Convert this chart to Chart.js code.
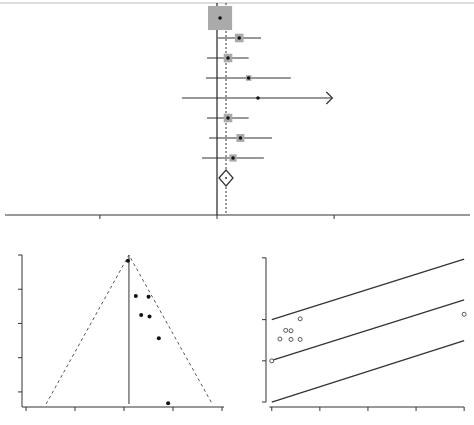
<!DOCTYPE html>
<html><head><meta charset="utf-8">
<script src="https://cdn.jsdelivr.net/npm/chart.js@4"></script>
<style>
body{margin:0;background:#fff;width:474px;height:425px;position:relative;overflow:hidden}
canvas{position:absolute}
#forest{left:0;top:0}
#funnel{left:0;top:240px}
#galb{left:240px;top:240px}
</style></head><body>
<canvas id="forest" width="474" height="230"></canvas>
<canvas id="funnel" width="240" height="185"></canvas>
<canvas id="galb" width="234" height="185"></canvas>
<script>
// forest plot
let studyRow = [1,2,3,4,5,6,7,8];
let studyEst = [0.026,0.19,0.094,0.27,0.35,0.094,0.20,0.137];
let studyLo = [-0.04,0.01,-0.085,-0.094,-0.30,-0.085,-0.068,-0.128];
let studyHi = [0.09,0.376,0.27,0.63,1.4,0.27,0.47,0.40];
let studyWeight = [55,7,7,3,0.3,7,6,5];
let pooledRow = 9, pooledEst = 0.077, pooledLo = 0.017, pooledHi = 0.137;
let forestTicks = [-1,0,1];

// funnel plot
let funnelX = [2.08,2.24,2.50,2.35,2.52,2.71,2.90];
let funnelSE = [0.17,1.20,1.22,1.75,1.80,2.43,4.33];
let funnelApex = [2.10,0];
let funnelLeft = [0.41,4.35];
let funnelRight = [3.80,4.35];
let funnelXTicks = [0,1,2,3,4];
let funnelYTicks = [0,1,2,3,4];

// galbraith plot
let galbX = [0,0.17,0.29,0.40,0.40,0.59,0.59,4.0];
let galbY = [1.0,1.53,1.74,1.73,1.52,2.02,1.52,2.13];
let galbLineX = [0,4];
let galbMid = [1.01,2.48];
let galbUp = [2.0,3.47];
let galbLow = [0,1.49];
let galbXTicks = [0,1,2,3,4];
let galbYTicks = [0,1,2,3.5];

const ink = '#333';

// axes drawn Stata-style: line over tick range, short outward ticks
const stataAxes = {
  id:'stataAxes',
  afterDraw(chart, args, o){
    const c = chart.ctx, xs = chart.scales.x, ys = chart.scales.y, a = chart.chartArea;
    c.save(); c.strokeStyle = ink; c.lineWidth = 1;
    if (o.x){
      const yb = a.bottom;
      c.beginPath();
      c.moveTo(o.x.from!=null?xs.getPixelForValue(o.x.from):a.left, yb);
      c.lineTo(o.x.to!=null?xs.getPixelForValue(o.x.to):a.right, yb);
      o.x.ticks.forEach(t=>{const p=xs.getPixelForValue(t);c.moveTo(p,yb);c.lineTo(p,yb+4);});
      c.stroke();
    }
    if (o.y){
      const xl = a.left;
      c.beginPath();
      c.moveTo(xl, o.y.from!=null?ys.getPixelForValue(o.y.from):a.bottom);
      c.lineTo(xl, o.y.to!=null?ys.getPixelForValue(o.y.to):a.top);
      o.y.ticks.forEach(t=>{const p=ys.getPixelForValue(t);c.moveTo(xl,p);c.lineTo(xl-4,p);});
      c.stroke();
    }
    c.restore();
  }
};

const hidden = {display:false};
const base = {responsive:false, animation:false, events:[],
  plugins:{legend:{display:false}, tooltip:{enabled:false}}};

// forest
const forestDecor = {
  id:'forestDecor',
  beforeDatasetsDraw(chart){
    const c = chart.ctx, xs = chart.scales.x, ys = chart.scales.y, a = chart.chartArea;
    c.save();
    c.strokeStyle = '#bbb'; c.beginPath(); c.moveTo(0,3); c.lineTo(474,3); c.stroke();
    c.strokeStyle = ink; c.lineWidth = 1.3;
    const x0 = xs.getPixelForValue(0);
    c.beginPath(); c.moveTo(x0,3); c.lineTo(x0,a.bottom); c.stroke();
    c.setLineDash([2,2]); c.lineWidth = 1;
    const xp = xs.getPixelForValue(pooledEst);
    c.beginPath(); c.moveTo(xp,3); c.lineTo(xp,a.bottom); c.stroke();
    c.setLineDash([]);
    c.lineWidth = 1.2;
    const maxX = 0.985;
    studyRow.forEach((r,i)=>{
      const y = ys.getPixelForValue(r);
      const hi = Math.min(studyHi[i], maxX);
      c.beginPath();
      c.moveTo(xs.getPixelForValue(studyLo[i]),y);
      c.lineTo(xs.getPixelForValue(hi),y);
      c.stroke();
      if (studyHi[i] > maxX){
        const p = xs.getPixelForValue(hi);
        c.beginPath(); c.moveTo(p-6,y-6); c.lineTo(p,y); c.lineTo(p-6,y+6); c.stroke();
      }
    });
    const yd = ys.getPixelForValue(pooledRow);
    c.beginPath();
    c.moveTo(xs.getPixelForValue(pooledLo),yd);
    c.lineTo(xp,yd-8);
    c.lineTo(xs.getPixelForValue(pooledHi),yd);
    c.lineTo(xp,yd+8);
    c.closePath(); c.fillStyle='#fff'; c.fill(); c.stroke();
    c.beginPath(); c.arc(xp,yd,1,0,Math.PI*2); c.fillStyle=ink; c.fill();
    c.restore();
  }
};
new Chart(document.getElementById('forest'), {
  type:'scatter',
  data:{datasets:[
    {data:studyRow.map((r,i)=>({x:studyEst[i],y:r})), pointRadius:1.8, backgroundColor:'#111', borderWidth:0},
    {data:studyRow.map((r,i)=>({x:studyEst[i],y:r})), pointStyle:'rect',
     pointRadius:studyWeight.map(w=>2.3*Math.sqrt(w)), backgroundColor:'#aaa', borderColor:'#aaa', borderWidth:0}
  ]},
  options:{...base, clip:false, layout:{autoPadding:false, padding:{left:5,right:4,top:0,bottom:15}},
    scales:{x:{...hidden,min:-1.81,max:2.16}, y:{...hidden,min:0.1,max:10.85,reverse:true}},
    plugins:{...base.plugins, stataAxes:{x:{ticks:forestTicks}}}},
  plugins:[forestDecor, stataAxes]
});

// funnel
new Chart(document.getElementById('funnel'), {
  type:'scatter',
  data:{datasets:[
    {data:funnelX.map((x,i)=>({x:x,y:funnelSE[i]})), pointRadius:2, backgroundColor:'#111', borderWidth:0},
    {data:[{x:funnelLeft[0],y:funnelLeft[1]},{x:funnelApex[0],y:funnelApex[1]},{x:funnelRight[0],y:funnelRight[1]}],
     showLine:true, borderColor:'#555', borderWidth:1, borderDash:[3,3], pointRadius:0},
    {data:[{x:funnelApex[0],y:funnelApex[1]},{x:funnelApex[0],y:funnelLeft[1]}],
     showLine:true, borderColor:'#555', borderWidth:1.2, pointRadius:0}
  ]},
  options:{...base, clip:false, layout:{autoPadding:false, padding:{left:22,right:16,top:15,bottom:18}},
    scales:{x:{...hidden,min:-0.082,max:4.04}, y:{...hidden,min:0,max:4.44,reverse:true}},
    plugins:{...base.plugins, stataAxes:{x:{ticks:funnelXTicks}, y:{ticks:funnelYTicks,from:4.44,to:0}}}},
  plugins:[stataAxes]
});

// galbraith
const line = (ys)=>galbLineX.map((x,i)=>({x:x,y:ys[i]}));
new Chart(document.getElementById('galb'), {
  type:'scatter',
  data:{datasets:[
    {data:galbX.map((x,i)=>({x:x,y:galbY[i]})), pointRadius:2, backgroundColor:'#fff', borderColor:'#555', borderWidth:1},
    {data:line(galbUp), showLine:true, borderColor:ink, borderWidth:1.3, pointRadius:0},
    {data:line(galbMid), showLine:true, borderColor:ink, borderWidth:1.3, pointRadius:0},
    {data:line(galbLow), showLine:true, borderColor:ink, borderWidth:1.3, pointRadius:0}
  ]},
  options:{...base, clip:false, layout:{autoPadding:false, padding:{left:26,right:6,top:10,bottom:18}},
    scales:{x:{...hidden,min:-0.12,max:4.08}, y:{...hidden,min:-0.12,max:3.69}},
    plugins:{...base.plugins, stataAxes:{x:{ticks:galbXTicks,from:-0.05,to:4}, y:{ticks:galbYTicks,from:0,to:3.5}}}},
  plugins:[stataAxes]
});
</script>
</body></html>
